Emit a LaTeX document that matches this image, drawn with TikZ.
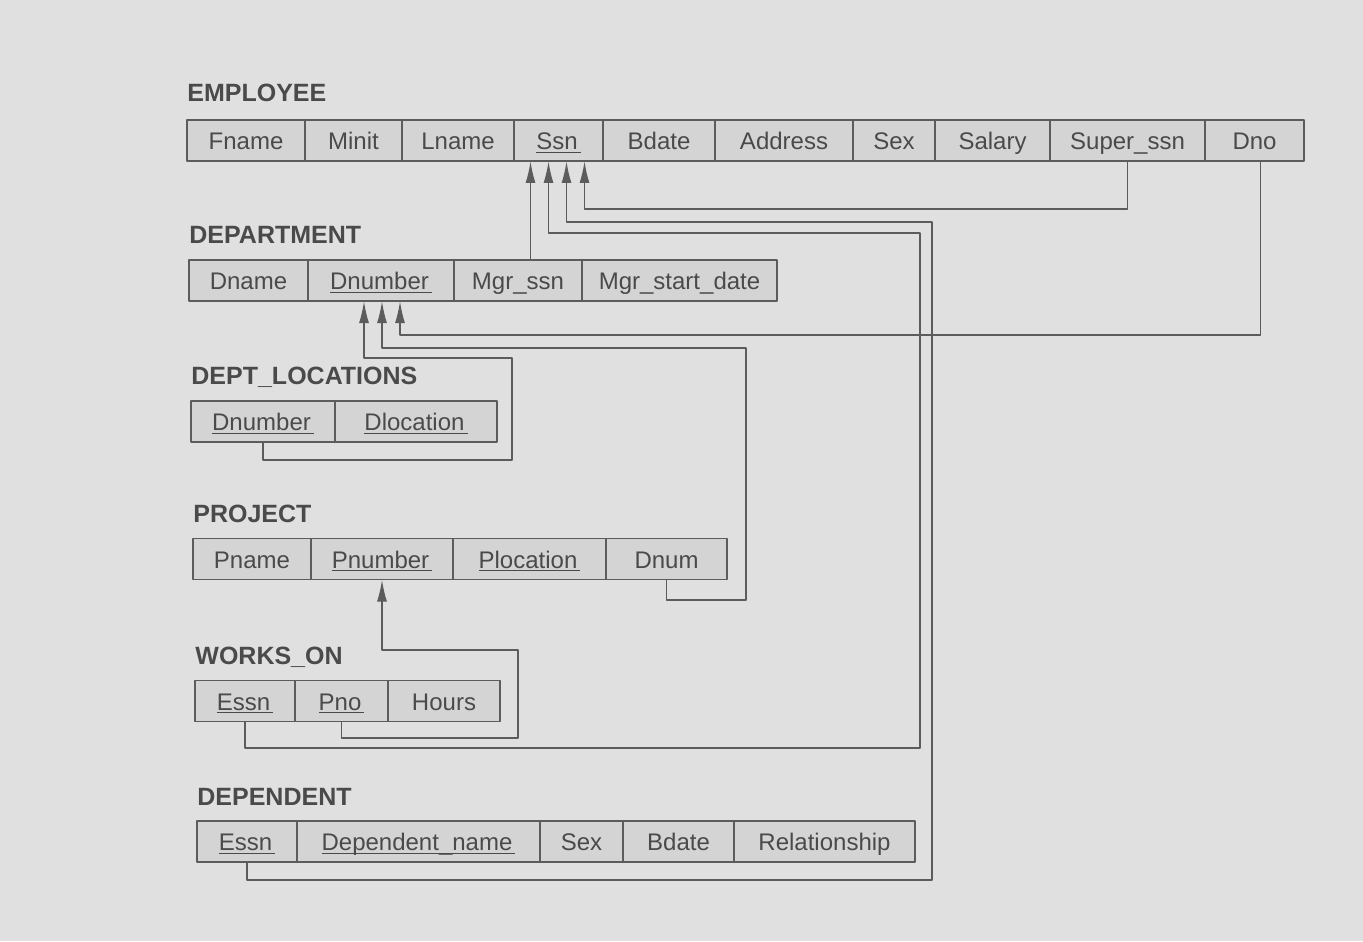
\documentclass[tikz,border=0pt]{standalone}
\usepackage{fontspec}
\setmainfont{Liberation Sans}
\usetikzlibrary{arrows.meta, positioning, calc}
\definecolor{bgc}{HTML}{E0E0E0}
\definecolor{cellc}{HTML}{D4D4D4}
\definecolor{linec}{HTML}{5C5C5C}
\definecolor{textc}{HTML}{4A4A4A}
\newcommand{\pk}[1]{\underline{\smash{#1}\kern1.5pt}}

\begin{document}
\begin{tikzpicture}[x=0.5pt, y=-0.5pt, line join=round, >={Latex[length=11pt,width=5pt]},
	cell/.style={draw=linec, fill=cellc, line width=0.9pt, minimum height=20.5pt, inner sep=0pt, outer sep=0pt, text height=10.5pt, text depth=1.5pt, text=textc, font=\fontsize{12}{12}\selectfont},
	relname/.style={anchor=base west, inner sep=0pt, text=textc, font=\fontsize{12.5}{12.5}\selectfont\bfseries},
	fk/.style={draw=linec, line width=0.9pt, ->}]
	\fill[bgc] (0,0) rectangle (1363,941);
	\useasboundingbox (0,0) rectangle (1363,941);
	% EMPLOYEE
	\node[cell, minimum width=59pt, anchor=west] (fname) at (187,140.5) {Fname};
	\node[cell, minimum width=48.5pt, right=0pt of fname] (minit) {Minit};
	\node[cell, minimum width=56pt, right=0pt of minit] (lname) {Lname};
	\node[cell, minimum width=44.5pt, right=0pt of lname] (ssn) {\pk{Ssn}};
	\node[cell, minimum width=56pt, right=0pt of ssn] (bdate) {Bdate};
	\node[cell, minimum width=69pt, right=0pt of bdate] (address) {Address};
	\node[cell, minimum width=41pt, right=0pt of address] (sex) {Sex};
	\node[cell, minimum width=57.5pt, right=0pt of sex] (salary) {Salary};
	\node[cell, minimum width=77.5pt, right=0pt of salary] (superssn) {Super\_ssn};
	\node[cell, minimum width=49.5pt, right=0pt of superssn] (dno) {Dno};
	\node[relname] (employee) at ($(fname.north west)+(0,-18)$) {EMPLOYEE};
	% DEPARTMENT
	\node[cell, minimum width=59.5pt, anchor=west] (dname) at (189,280.5) {Dname};
	\node[cell, minimum width=73pt, right=0pt of dname] (dnumber) {\pk{Dnumber}};
	\node[cell, minimum width=64pt, right=0pt of dnumber] (mgrssn) {Mgr\_ssn};
	\node[cell, minimum width=97.5pt, right=0pt of mgrssn] (mgrdate) {Mgr\_start\_date};
	\node[relname] (department) at ($(dname.north west)+(0,-17)$) {DEPARTMENT};
	% DEPT_LOCATIONS
	\node[cell, minimum width=72pt, anchor=west] (dlDnumber) at (191,421.5) {\pk{Dnumber}};
	\node[cell, minimum width=81pt, right=0pt of dlDnumber] (dlocation) {\pk{Dlocation}};
	\node[relname] (deptloc) at ($(dlDnumber.north west)+(0,-17)$) {DEPT\_LOCATIONS};
	% PROJECT
	\node[cell, minimum width=59pt, anchor=west] (pname) at (193,559) {Pname};
	\node[cell, minimum width=71pt, right=0pt of pname] (pnumber) {\pk{Pnumber}};
	\node[cell, minimum width=76.5pt, right=0pt of pnumber] (plocation) {\pk{Plocation}};
	\node[cell, minimum width=60.5pt, right=0pt of plocation] (dnum) {Dnum};
	\node[relname] (project) at ($(pname.north west)+(0,-16)$) {PROJECT};
	% WORKS_ON
	\node[cell, minimum width=50pt, anchor=west] (woEssn) at (195,701) {\pk{Essn}};
	\node[cell, minimum width=46.5pt, right=0pt of woEssn] (pno) {\pk{Pno}};
	\node[cell, minimum width=56pt, right=0pt of pno] (hours) {Hours};
	\node[relname] (workson) at ($(woEssn.north west)+(0,-16)$) {WORKS\_ON};
	% DEPENDENT
	\node[cell, minimum width=50pt, anchor=west] (depEssn) at (197,841.5) {\pk{Essn}};
	\node[cell, minimum width=121.5pt, right=0pt of depEssn] (depname) {\pk{Dependent\_name}};
	\node[cell, minimum width=41.5pt, right=0pt of depname] (depsex) {Sex};
	\node[cell, minimum width=55.5pt, right=0pt of depsex] (depbdate) {Bdate};
	\node[cell, minimum width=90.5pt, right=0pt of depbdate] (relationship) {Relationship};
	\node[relname] (dependent) at ($(depEssn.north west)+(0,-16)$) {DEPENDENT};
	% arrow ends
	\coordinate (ssnA) at ($(ssn.south)+(-28,0)$);
	\coordinate (ssnB) at ($(ssn.south)+(-10,0)$);
	\coordinate (ssnC) at ($(ssn.south)+(8,0)$);
	\coordinate (ssnD) at ($(ssn.south)+(26,0)$);
	\coordinate (dnumA) at ($(dnumber.south)+(-17,0)$);
	\coordinate (dnumB) at ($(dnumber.south)+(1,0)$);
	\coordinate (dnumC) at ($(dnumber.south)+(19,0)$);
	\coordinate (dnoA) at ($(dno.south)+(6,0)$);
	% foreign keys
	\draw[fk] (mgrssn.north -| ssnA) -- (ssnA);
	\draw[fk] (woEssn.south) |- (920,748) -- (920,233) -| (ssnB);
	\draw[fk] (depEssn.south) |- (932,880) -- (932,222) -| (ssnC);
	\draw[fk] (superssn.south) -- ++(0,48) -| (ssnD);
	\draw[fk] (dnoA) -- ++(0,174) -| (dnumC);
	\draw[fk] (dlDnumber.south) |- (512,460) -- (512,358) -| (dnumA);
	\draw[fk] (dnum.south) |- (746,600) -- (746,348) -| (dnumB);
	\draw[fk] (pno.south) |- (518,738) -- (518,650) -| (pnumber.south);
\end{tikzpicture}
\end{document}
